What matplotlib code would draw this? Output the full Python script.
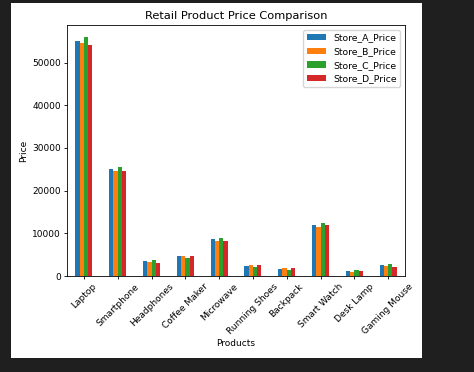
import matplotlib
matplotlib.use("Agg")
import matplotlib.pyplot as plt
import pandas as pd
from matplotlib.patches import Rectangle

products = ["Laptop", "Smartphone", "Headphones", "Coffee Maker", "Microwave",
            "Running Shoes", "Backpack", "Smart Watch", "Desk Lamp", "Gaming Mouse"]
store_a = [55000, 25000, 3500, 4600, 8600, 2300, 1700, 12000, 1200, 2500]
store_b = [54500, 24700, 3300, 4800, 8300, 2600, 1800, 11500, 1000, 2400]
store_c = [56000, 25500, 3800, 4300, 9000, 2200, 1500, 12500, 1400, 2700]
store_d = [54000, 24500, 3100, 4600, 8100, 2500, 1800, 11900, 1100, 2200]

df = pd.DataFrame({"Store_A_Price": store_a, "Store_B_Price": store_b,
                   "Store_C_Price": store_c, "Store_D_Price": store_d},
                  index=products)

W, H = 474, 372
fig = plt.figure(figsize=(W / 100, H / 100), dpi=100, facecolor="#1f1f1f")
# white figure panel as in the notebook screenshot
panel = Rectangle((11 / W, (H - 358) / H), (422 - 11) / W, (358 - 3) / H,
                  transform=fig.transFigure, facecolor="white",
                  edgecolor="none", zorder=-10)
fig.add_artist(panel)

ax = fig.add_axes([67 / W, (H - 276) / H, (405 - 67) / W, (276 - 25) / H])
fs = 6.5
df.plot(kind="bar", ax=ax, rot=45)
ax.set_title("Retail Product Price Comparison", fontsize=8.2, pad=4)
ax.set_xlabel("Products", fontsize=fs, labelpad=2)
ax.set_ylabel("Price", fontsize=fs, labelpad=3)
ax.tick_params(labelsize=fs, length=2.3, width=0.6, pad=2)
for s in ax.spines.values():
    s.set_linewidth(0.6)
ax.legend(loc="upper right", fontsize=6.7, framealpha=0.8)

fig.savefig("out.png", dpi=100, facecolor=fig.get_facecolor())
